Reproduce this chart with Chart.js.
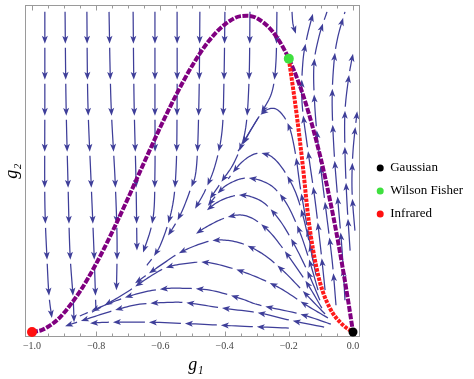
<!DOCTYPE html>
<html><head><meta charset="utf-8">
<script src="https://cdn.jsdelivr.net/npm/chart.js@4.4.0/dist/chart.umd.min.js"></script>
<style>html,body{margin:0;padding:0;background:#fff}#wrap{width:474px;height:379px}</style>
</head><body><div id="wrap"><canvas id="c" width="474" height="379"></canvas></div>
<script>
// ---------- data ----------
const xTickValues = [-1.0, -0.8, -0.6, -0.4, -0.2, 0.0];
const xTickLabels = ['−1.0', '−0.8', '−0.6', '−0.4', '−0.2', '0.0'];

const fixedPointNames = ['Gaussian', 'Wilson Fisher', 'Infrared'];
const fixedPointG1 = [0.0, -0.2, -1.0];
const fixedPointG2 = [0.0, 0.836, 0.0];
const fixedPointColors = ['#000000', '#3fe03f', '#ff1010'];

const nullclineG1 = [-1.0,-0.97,-0.95,-0.92,-0.9,-0.85,-0.8,-0.75,-0.7,-0.65,-0.6,-0.55,-0.5,-0.45,-0.4,-0.35,-0.33,-0.3,-0.25,-0.2,-0.15,-0.1,-0.07,-0.05,-0.03,-0.015,0.0];
const nullclineG2 = [0.0,0.006,0.016,0.038,0.059,0.125,0.209,0.306,0.411,0.520,0.627,0.727,0.816,0.889,0.940,0.966,0.967,0.960,0.918,0.836,0.708,0.529,0.395,0.295,0.184,0.095,0.0];

const separatrixG1 = [-0.2,-0.176,-0.156,-0.140,-0.125,-0.103,-0.072,-0.031,0.0];
const separatrixG2 = [0.836,0.669,0.505,0.356,0.255,0.152,0.073,0.021,0.0];

// streamlines, each listed in the direction of the flow: [g1, g2]
const descendingStreams = [
  [[-0.96,0.979],[-0.96,0.705],[-0.96,0.401],[-0.953,0.219],[-0.947,0.112],[-0.938,0.043]],
  [[-0.897,0.979],[-0.894,0.705],[-0.888,0.462],[-0.882,0.249],[-0.872,0.106],[-0.869,0.03]],
  [[-0.829,0.979],[-0.826,0.705],[-0.816,0.462],[-0.807,0.249],[-0.801,0.073]],
  [[-0.760,0.979],[-0.754,0.705],[-0.741,0.462],[-0.735,0.280],[-0.737,0.128]],
  [[-0.685,0.979],[-0.682,0.705],[-0.676,0.462],[-0.673,0.249]],
  [[-0.617,0.979],[-0.617,0.705],[-0.617,0.492],[-0.623,0.347],[-0.654,0.243]],
  [[-0.548,0.979],[-0.548,0.705],[-0.551,0.502],[-0.564,0.377],[-0.601,0.264],[-0.642,0.204]],
  [[-0.477,0.979],[-0.480,0.705],[-0.488,0.502],[-0.508,0.432],[-0.539,0.356],[-0.576,0.295]],
  [[-0.399,0.979],[-0.402,0.766],[-0.408,0.614],[-0.430,0.508],[-0.461,0.432],[-0.492,0.377]],
  [[-0.321,0.979],[-0.324,0.766],[-0.336,0.614],[-0.368,0.523],[-0.408,0.462],[-0.446,0.407]],
  [[-0.237,0.979],[-0.240,0.827],[-0.252,0.736],[-0.283,0.675],[-0.321,0.614],[-0.358,0.553]],
  [[-0.190,0.979],[-0.187,0.942],[-0.178,0.912]]
];
const fanStreams = [
  [[-0.125,0.219],[-0.146,0.340],[-0.165,0.447],[-0.178,0.538],[-0.196,0.620],[-0.221,0.666],[-0.249,0.684],[-0.284,0.669],[-0.315,0.623],[-0.343,0.574]],
  [[-0.115,0.173],[-0.134,0.264],[-0.156,0.356],[-0.181,0.432],[-0.218,0.498],[-0.252,0.535],[-0.284,0.547],[-0.315,0.541],[-0.352,0.514],[-0.389,0.468]],
  [[-0.109,0.128],[-0.134,0.213],[-0.165,0.304],[-0.203,0.386],[-0.243,0.438],[-0.284,0.462],[-0.330,0.471],[-0.368,0.462],[-0.408,0.438],[-0.452,0.386]],
  [[-0.103,0.097],[-0.140,0.182],[-0.181,0.264],[-0.227,0.340],[-0.274,0.392],[-0.315,0.413],[-0.352,0.419],[-0.393,0.410],[-0.430,0.392],[-0.467,0.362]],
  [[-0.097,0.073],[-0.143,0.149],[-0.196,0.225],[-0.252,0.298],[-0.296,0.337],[-0.336,0.356],[-0.374,0.356],[-0.414,0.343],[-0.461,0.319],[-0.502,0.292]],
  [[-0.087,0.055],[-0.150,0.119],[-0.212,0.182],[-0.274,0.234],[-0.336,0.267],[-0.389,0.280],[-0.436,0.280],[-0.483,0.267],[-0.539,0.243],[-0.586,0.213],[-0.632,0.182],[-0.679,0.149]],
  [[-0.078,0.043],[-0.150,0.085],[-0.227,0.134],[-0.305,0.170],[-0.377,0.195],[-0.455,0.213],[-0.517,0.210],[-0.579,0.198],[-0.632,0.170],[-0.695,0.128],[-0.757,0.091],[-0.813,0.061]],
  [[-0.069,0.024],[-0.165,0.055],[-0.290,0.082],[-0.352,0.103],[-0.446,0.128],[-0.539,0.134],[-0.601,0.131],[-0.664,0.119],[-0.726,0.100],[-0.788,0.076],[-0.851,0.049]],
  [[-0.090,0.015],[-0.196,0.036],[-0.290,0.058],[-0.405,0.073],[-0.508,0.088],[-0.561,0.091],[-0.664,0.085],[-0.741,0.067],[-0.819,0.043],[-0.897,0.018]],
  [[-0.200,0.012],[-0.352,0.018],[-0.477,0.024],[-0.632,0.030],[-0.757,0.030],[-0.819,0.027]]
];
const risingStreams = [
  [[-0.087,0.128],[-0.100,0.249],[-0.118,0.401],[-0.140,0.553],[-0.159,0.705],[-0.156,0.827],[-0.143,0.903],[-0.125,0.973]],
  [[-0.053,0.082],[-0.065,0.219],[-0.084,0.371],[-0.103,0.523],[-0.118,0.675],[-0.122,0.812],[-0.106,0.903],[-0.081,0.979]],
  [[-0.025,0.097],[-0.034,0.249],[-0.047,0.401],[-0.059,0.553],[-0.065,0.705],[-0.059,0.827],[-0.047,0.903],[-0.025,0.979]],
  [[-0.009,0.249],[-0.019,0.401],[-0.025,0.553],[-0.025,0.675],[-0.013,0.781],[0.0,0.851]],
  [[0.006,0.31],[-0.003,0.432],[0.0,0.553],[0.013,0.675]]
];

// ---------- layout / style constants ----------
const X_MIN = -1.0218, FRAME_MAX = 0.0218, FRAME_RIGHT_PX = 360;
const STREAM_COLOR = '#3e3e99';

function smooth(pts) {
  if (pts.length < 3) return pts.slice();
  const out = [];
  for (let i = 0; i < pts.length - 1; i++) {
    const p0 = pts[Math.max(i - 1, 0)], p1 = pts[i], p2 = pts[i + 1], p3 = pts[Math.min(i + 2, pts.length - 1)];
    for (let k = 0; k < 10; k++) {
      const t = k / 10, t2 = t * t, t3 = t2 * t;
      const f = (a, b, c, d) => 0.5 * (2 * b + (-a + c) * t + (2 * a - 5 * b + 4 * c - d) * t2 + (-a + 3 * b - 3 * c + d) * t3);
      out.push({x: f(p0.x, p1.x, p2.x, p3.x), y: f(p0.y, p1.y, p2.y, p3.y)});
    }
  }
  out.push(pts[pts.length - 1]);
  return out;
}
function drawStream(ctx, pts) {
  const cum = [0];
  for (let i = 1; i < pts.length; i++) cum.push(cum[i - 1] + Math.hypot(pts[i].x - pts[i - 1].x, pts[i].y - pts[i - 1].y));
  const L = cum[cum.length - 1];
  const at = (s) => {
    let i = 1;
    while (i < cum.length - 1 && cum[i] < s) i++;
    const seg = (cum[i] - cum[i - 1]) || 1;
    const t = Math.max(0, Math.min(1, (s - cum[i - 1]) / seg));
    return {x: pts[i - 1].x + (pts[i].x - pts[i - 1].x) * t, y: pts[i - 1].y + (pts[i].y - pts[i - 1].y) * t};
  };
  const P = 36, GAP = 4, H = 8, W = 3;
  for (let s0 = 0; s0 < L - 2; s0 += P) {
    const s1 = Math.min(s0 + P - GAP, L);
    const hasHead = s1 - s0 > H + 3;
    const lineEnd = hasHead ? s1 - H * 0.7 : s1;
    ctx.beginPath();
    const a = at(s0);
    ctx.moveTo(a.x, a.y);
    for (let i = 0; i < cum.length; i++) if (cum[i] > s0 && cum[i] < lineEnd) ctx.lineTo(pts[i].x, pts[i].y);
    const b = at(lineEnd);
    ctx.lineTo(b.x, b.y);
    ctx.stroke();
    if (hasHead) {
      const tip = at(s1), back = at(s1 - H);
      const ang = Math.atan2(tip.y - back.y, tip.x - back.x);
      const c = Math.cos(ang), s = Math.sin(ang);
      const bx = tip.x - H * c, by = tip.y - H * s;
      ctx.beginPath();
      ctx.moveTo(tip.x, tip.y);
      ctx.lineTo(bx - W * s, by + W * c);
      ctx.lineTo(tip.x - H * 0.75 * c, tip.y - H * 0.75 * s);
      ctx.lineTo(bx + W * s, by - W * c);
      ctx.closePath();
      ctx.fill();
    }
  }
}

const streamPlugin = {
  id: 'streams',
  beforeDatasetsDraw(chart) {
    const ctx = chart.ctx, area = chart.chartArea, xs = chart.scales.x;
    const right = xs.getPixelForValue(FRAME_MAX);
    ctx.save();
    ctx.beginPath();
    ctx.rect(area.left, area.top, right - area.left, area.bottom - area.top);
    ctx.clip();
    ctx.strokeStyle = STREAM_COLOR;
    ctx.fillStyle = STREAM_COLOR;
    ctx.lineWidth = 1.25;
    ctx.lineJoin = 'round';
    chart.data.datasets.forEach((ds, i) => {
      if (!ds.isStream) return;
      const meta = chart.getDatasetMeta(i);
      const pts = meta.data.map(p => ({x: p.x, y: p.y}));
      drawStream(ctx, smooth(pts));
    });
    ctx.restore();
    // frame and inward ticks
    ctx.save();
    ctx.strokeStyle = '#9a9a9a';
    ctx.lineWidth = 1;
    const l = Math.round(area.left) + 0.5, r = Math.round(right) - 0.5;
    const t = Math.round(area.top) + 0.5, b = Math.round(area.bottom) - 0.5;
    ctx.strokeRect(l, t, r - l, b - t);
    ctx.beginPath();
    for (let i = 0; i <= 20; i++) {
      const v = -1 + i * 0.05;
      const px = Math.round(xs.getPixelForValue(v)) + 0.5;
      const len = (i % 4 === 0) ? 5 : 3;
      ctx.moveTo(px, b); ctx.lineTo(px, b - len);
      ctx.moveTo(px, t); ctx.lineTo(px, t + len);
    }
    ctx.stroke();
    ctx.restore();
  }
};

// ---------- datasets ----------
const toPts = (arr) => arr.map(p => ({x: p[0], y: p[1]}));
const datasets = [];
fixedPointNames.forEach((name, i) => {
  datasets.push({
    label: name,
    data: [{x: fixedPointG1[i], y: fixedPointG2[i]}],
    backgroundColor: fixedPointColors[i],
    borderColor: fixedPointColors[i],
    borderWidth: 0,
    pointRadius: i === 0 ? 4.5 : 5,
    pointHoverRadius: 5,
    pointStyle: 'circle',
    order: 0,
    clip: false
  });
});
datasets.push({
  label: 'separatrix',
  data: separatrixG1.map((x, i) => ({x, y: separatrixG2[i]})),
  showLine: true, borderColor: '#ff1a1a', borderWidth: 4, borderDash: [3.5, 1.2],
  pointRadius: 0, cubicInterpolationMode: 'monotone', order: 1
});
datasets.push({
  label: 'nullcline',
  data: nullclineG1.map((x, i) => ({x, y: nullclineG2[i]})),
  showLine: true, borderColor: '#800080', borderWidth: 4, borderDash: [6, 1.5],
  pointRadius: 0, cubicInterpolationMode: 'monotone', order: 2
});
[...descendingStreams, ...fanStreams, ...risingStreams].forEach((s, i) => {
  datasets.push({label: 'stream' + i, data: toPts(s), isStream: true, showLine: false, pointRadius: 0, pointHoverRadius: 0, order: 5});
});

const chart = new Chart(document.getElementById('c'), {
  type: 'scatter',
  data: {datasets},
  plugins: [streamPlugin],
  options: {
    responsive: false,
    devicePixelRatio: 1,
    animation: false,
    layout: {padding: {top: 3, right: 1, bottom: 0, left: 0}},
    plugins: {
      tooltip: {enabled: false},
      legend: {
        display: true,
        position: 'right',
        align: 'center',
        labels: {
          usePointStyle: true,
          pointStyle: 'circle',
          pointStyleWidth: 7,
          boxHeight: 5,
          padding: 10,
          color: '#000',
          font: {family: 'Liberation Serif', size: 13},
          filter: (item) => fixedPointNames.includes(item.text)
        }
      }
    },
    scales: {
      x: {
        type: 'linear', min: X_MIN, max: FRAME_MAX,
        afterBuildTicks: (s) => { s.ticks = xTickValues.map(v => ({value: v})); },
        afterFit: (s) => { s.height = 42; },
        ticks: {
          autoSkip: false, maxRotation: 0, padding: 3, color: '#444',
          font: {family: 'Liberation Serif', size: 10},
          callback: (v) => { const i = xTickValues.findIndex(t => Math.abs(t - v) < 1e-9); return i >= 0 ? xTickLabels[i] : ''; }
        },
        grid: {display: false, drawTicks: false},
        border: {display: false},
        title: {display: true, text: 'g₁', color: '#000', padding: {top: 0, bottom: 3},
                font: {family: 'Liberation Serif', size: 18, style: 'italic'}}
      },
      y: {
        type: 'linear', min: -0.0152, max: 1.0,
        afterFit: (s) => { s.width = 25; },
        ticks: {display: false},
        grid: {display: false, drawTicks: false},
        border: {display: false},
        title: {display: true, text: 'g₂', color: '#000', padding: {top: 1, bottom: 0},
                font: {family: 'Liberation Serif', size: 18, style: 'italic'}}
      }
    }
  }
});
// keep the plot frame at its place: stretch the x range to the space left of the legend
(function () {
  const a = chart.chartArea;
  const k = (FRAME_RIGHT_PX - a.left) / (FRAME_MAX - X_MIN);
  chart.options.scales.x.max = X_MIN + (a.right - a.left) / k;
  chart.update('none');
})();
</script>
</body></html>
